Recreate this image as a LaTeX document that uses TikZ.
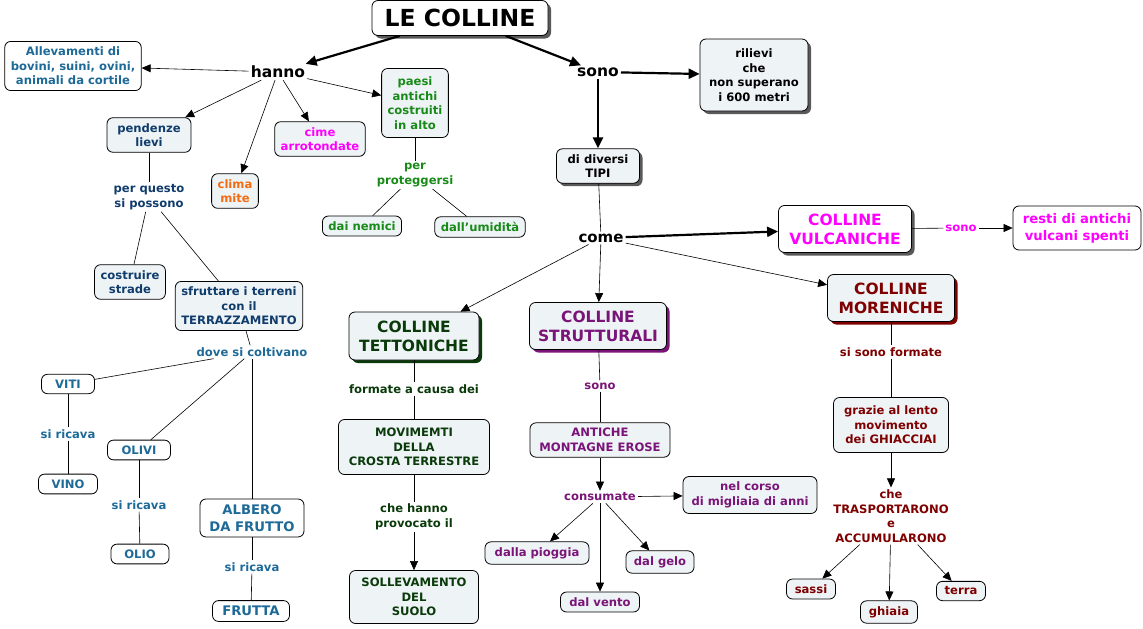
\documentclass[tikz,border=0pt]{standalone}
\usepackage{fontspec}
\setmainfont{DejaVu Sans}[BoldFont={DejaVu Sans Bold}]
\usetikzlibrary{arrows.meta,shadows}
\definecolor{fillc}{HTML}{EEF3F6}
\definecolor{teal}{HTML}{1D6A98}
\definecolor{navy}{HTML}{103C6C}
\definecolor{grn}{HTML}{178A17}
\definecolor{mag}{HTML}{FF00FF}
\definecolor{orng}{HTML}{F26B10}
\definecolor{dgrn}{HTML}{0A3A0A}
\definecolor{purp}{HTML}{7A1478}
\definecolor{dred}{HTML}{7E0000}
\tikzset{
  box/.style={draw=black,fill=fillc,rounded corners=6pt,align=center,inner xsep=6pt,inner ysep=5.5pt,font=\fontsize{11.6}{14.6}\selectfont\bfseries,line width=0.8pt},
  wbox/.style={box,fill=white},
  lab/.style={align=center,inner sep=2pt,font=\fontsize{11.6}{14.6}\selectfont\bfseries},
  big/.style={font=\fontsize{15.5}{19}\selectfont\bfseries},
  mid/.style={font=\fontsize{13.2}{17}\selectfont\bfseries},
  sh/.style={drop shadow={shadow xshift=3pt,shadow yshift=-3pt,fill=#1,opacity=1}},
  ar/.style={-{Triangle[length=9pt,width=8pt]},line width=0.6pt},
  tar/.style={-{Triangle[length=11pt,width=10pt]},line width=2.2pt},
  ln/.style={line width=0.6pt},
}
\begin{document}
\begin{tikzpicture}[x=1pt,y=-1pt]
\useasboundingbox (0,0) rectangle (1143,629);
\node[wbox,sh=gray!70!black,font=\fontsize{23.5}{26}\selectfont\bfseries,minimum width=176,minimum height=35,inner ysep=3pt] (root) at (460,18) {LE COLLINE};
\node[lab,font=\fontsize{15.5}{17}\selectfont\bfseries] (hanno) at (278,72) {hanno};
\node[lab,font=\fontsize{15.5}{17}\selectfont\bfseries] (sono) at (598,72) {sono};
\node[wbox,text=teal] (allev) at (73,66) {Allevamenti di\\bovini, suini, ovini,\\animali da cortile};
\node[box,sh=gray!70!black,minimum width=108,minimum height=72] (ril) at (754,75) {rilievi\\che\\non superano\\i 600 metri};
\node[box,text=navy,minimum width=84] (pend) at (149,135) {pendenze\\lievi};
\node[box,text=orng] (clima) at (235,191) {clima\\mite};
\node[box,text=mag] (cime) at (320,139) {cime\\arrotondate};
\node[box,text=grn,minimum height=69] (paesi) at (415,103) {paesi\\antichi\\costruiti\\in alto};
\node[lab,text=grn] (prot) at (415,175) {per\\proteggersi};
\node[box,text=grn] (nem) at (362,226) {dai nemici};
\node[box,text=grn] (umi) at (480,227) {dall'umidità};
\node[lab,text=navy] (perq) at (149,197) {per questo\\si possono};
\node[box,text=navy] (costr) at (130,282) {costruire\\strade};
\node[box,text=navy] (sfr) at (239,306) {sfruttare i terreni\\con il\\TERRAZZAMENTO};
\node[lab,text=teal] (dove) at (252,352) {dove si coltivano};
\node[wbox,text=teal,minimum width=53] (viti) at (68,384) {VITI};
\node[lab,text=teal] (sr1) at (68,434) {si ricava};
\node[wbox,text=teal,minimum width=59] (vino) at (68,484) {VINO};
\node[wbox,text=teal,minimum width=63] (olivi) at (139,450) {OLIVI};
\node[lab,text=teal] (sr2) at (139,505) {si ricava};
\node[wbox,text=teal,minimum width=58] (olio) at (140,554) {OLIO};
\node[wbox,text=teal,mid,minimum width=104] (albero) at (252,518) {ALBERO\\DA FRUTTO};
\node[lab,text=teal] (sr3) at (252,567) {si ricava};
\node[wbox,text=teal,mid,minimum width=77] (frutta) at (251,611) {FRUTTA};
\node[box,sh=gray!70!black,minimum width=83] (tipi) at (598,166) {di diversi\\TIPI};
\node[lab,font=\fontsize{15}{17}\selectfont\bfseries] (come) at (601,238) {come};
\node[wbox,sh=gray!70!black,text=mag,big,minimum width=133,minimum height=47] (vulc) at (845,229) {COLLINE\\VULCANICHE};
\node[lab,text=mag] (sonov) at (961,228) {sono};
\node[wbox,text=mag,mid,minimum width=128,minimum height=44] (resti) at (1077,228) {resti di antichi\\vulcani spenti};
\node[box,sh=dred,text=dred,big,minimum width=127,minimum height=47] (mor) at (891,298) {COLLINE\\MORENICHE};
\node[box,sh=dgrn,text=dgrn,big,minimum width=130,minimum height=48] (tett) at (414,336) {COLLINE\\TETTONICHE};
\node[box,sh=purp,text=purp,big,minimum width=137,minimum height=47] (strut) at (598,326) {COLLINE\\STRUTTURALI};
\node[lab,text=dgrn] (form) at (414,389) {formate a causa dei};
\node[box,text=dgrn,minimum width=151,minimum height=55] (mov) at (414,447) {MOVIMEMTI\\DELLA\\CROSTA TERRESTRE};
\node[lab,text=dgrn] (prov) at (414,517) {che hanno\\provocato il};
\node[box,text=dgrn,minimum width=129,minimum height=53] (soll) at (414,597) {SOLLEVAMENTO\\DEL\\SUOLO};
\node[lab,text=purp] (sonos) at (600,386) {sono};
\node[box,text=purp,minimum width=140] (antiche) at (600,440) {ANTICHE\\MONTAGNE EROSE};
\node[lab,text=purp] (cons) at (600,497) {consumate};
\node[box,text=purp,minimum width=134] (corso) at (750,495) {nel corso\\di migliaia di anni};
\node[box,text=purp,minimum width=104] (piog) at (537,553) {dalla pioggia};
\node[box,text=purp,minimum width=68] (gelo) at (660,562) {dal gelo};
\node[box,text=purp,minimum width=79] (vento) at (600,602) {dal vento};
\node[lab,text=dred] (sisono) at (891,352) {si sono formate};
\node[box,text=dred,minimum width=115,minimum height=55] (graz) at (891,425) {grazie al lento\\movimento\\dei GHIACCIAI};
\node[lab,text=dred] (trasp) at (891,516) {che\\TRASPORTARONO\\e\\ACCUMULARONO};
\node[box,text=dred,minimum width=49] (sassi) at (811,589) {sassi};
\node[box,text=dred,minimum width=57] (ghiaia) at (889,612) {ghiaia};
\node[box,text=dred,minimum width=49] (terra) at (961,591) {terra};

\draw[tar] (root) -- (hanno);
\draw[tar] (root) -- (sono);
\draw[tar] (sono) -- (ril);
\draw[tar] (sono) -- (tipi);
\draw[ar] (hanno) -- (allev);
\draw[ar] (hanno) -- (pend);
\draw[ar] (hanno) -- (clima);
\draw[ar] (hanno) -- (cime);
\draw[ar] (hanno) -- (paesi);
\draw[ln] (paesi) -- (prot);
\draw[ln] (prot) -- (nem);
\draw[ln] (prot) -- (umi);
\draw[ln] (pend) -- (perq);
\draw[ln] (perq) -- (costr);
\draw[ln] (perq) -- (sfr);
\draw[ln] (sfr) -- (dove);
\draw[ln] (dove) -- (viti);
\draw[ln] (dove) -- (olivi);
\draw[ln] (dove) -- (albero);
\draw[ln] (viti) -- (sr1); \draw[ln] (sr1) -- (vino);
\draw[ln] (olivi) -- (sr2); \draw[ln] (sr2) -- (olio);
\draw[ln] (albero) -- (sr3); \draw[ln] (sr3) -- (frutta);
\draw[ln] (tipi) -- (come);
\draw[tar] (come) -- (vulc);
\draw[ar] (come) -- (tett);
\draw[ar] (come) -- (strut);
\draw[ar] (come) -- (mor);
\draw[ln] (vulc) -- (sonov);
\draw[ar] (sonov) -- (resti);
\draw[ln] (tett) -- (form); \draw[ln] (form) -- (mov);
\draw[ln] (mov) -- (prov); \draw[ar] (prov) -- (soll);
\draw[ln] (strut) -- (sonos); \draw[ln] (sonos) -- (antiche);
\draw[ar] (antiche) -- (cons);
\draw[ar] (cons) -- (corso);
\draw[ar] (cons) -- (piog);
\draw[ar] (cons) -- (gelo);
\draw[ar] (cons) -- (vento);
\draw[ln] (mor) -- (sisono); \draw[ln] (sisono) -- (graz);
\draw[ar] (graz) -- (trasp);
\draw[ar] (trasp) -- (sassi);
\draw[ar] (trasp) -- (ghiaia);
\draw[ar] (trasp) -- (terra);
\end{tikzpicture}
\end{document}
